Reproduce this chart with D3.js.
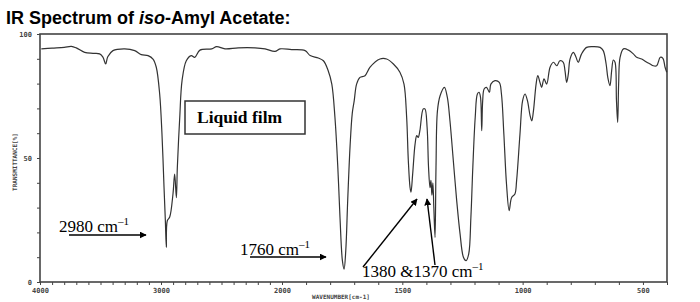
<!DOCTYPE html>
<html>
<head>
<meta charset="utf-8">
<script src="https://cdn.jsdelivr.net/npm/d3@7"></script>
<style>
  html, body { margin: 0; padding: 0; background: #fff; }
  svg { display: block; }
</style>
</head>
<body>
<svg id="chart" width="700" height="302"></svg>
<script>
// wavenumber (cm-1) and % transmittance
const wavenumbers = [
  3989, 3900, 3800, 3741, 3700, 3631, 3562, 3507, 3480, 3457, 3440, 3397, 3300, 3217,
  3163, 3107, 3066, 3039, 3011, 2992, 2975, 2964, 2956, 2948, 2928, 2901, 2887, 2873,
  2865, 2845, 2826, 2791, 2750, 2721, 2678, 2581, 2540, 2471, 2361, 2223, 2140, 2058,
  2017, 1960, 1904, 1883, 1849, 1828, 1808, 1793, 1780, 1768, 1759, 1749, 1742, 1735,
  1727, 1717, 1708, 1700, 1690, 1676, 1655, 1634, 1593, 1565, 1537, 1510, 1493, 1482,
  1475, 1468, 1464, 1457, 1447, 1440, 1434, 1427, 1413, 1406, 1397, 1391, 1385, 1381,
  1377, 1373, 1369, 1364, 1360, 1354, 1343, 1325, 1313, 1302, 1288, 1274, 1260, 1246,
  1235, 1224, 1215, 1207, 1197, 1188, 1181, 1175, 1170, 1166, 1160, 1150, 1138, 1132,
  1115, 1097, 1088, 1078, 1067, 1056, 1046, 1032, 1025, 1011, 1000, 990, 980, 969,
  962, 955, 944, 937, 928, 921, 911, 900, 886, 872, 858, 845, 831, 824,
  817, 810, 803, 789, 778, 769, 755, 734, 706, 678, 665, 653, 646, 637,
  630, 623, 616, 610, 605, 601, 595, 581, 560, 540, 526, 505, 484, 470,
  457, 443, 428, 417, 408, 401
];
const transmittance = [
  94, 94.3, 94.6, 95, 94.4, 92.6, 92.2, 92, 90.7, 87.9, 90.8, 93.3, 94, 93.3,
  91.7, 91.3, 89.9, 86.6, 75.8, 59.7, 38.2, 24.7, 14, 24.7, 26.2, 35.5, 43.5, 34,
  46.2, 66.4, 81.2, 89.2, 91.3, 90.6, 93.5, 94, 94.9, 94, 94.4, 94.4, 94, 93,
  94, 93.7, 93.3, 91.3, 90.3, 89.2, 85.2, 79.8, 66.4, 46.2, 26, 8.6, 5.2, 12.6,
  32.8, 55, 68, 73, 79.8, 82.5, 83.2, 86.6, 89.9, 89.9, 87.9, 84.6, 79.8, 66.4,
  48.9, 38.2, 36.2, 43.5, 55.6, 59, 58.3, 61, 69.8, 69.8, 62.4, 46.2, 38, 41,
  35, 40, 30, 18, 46.2, 69, 75.1, 78.5, 74.5, 65, 48.9, 32.8, 19.4, 10,
  8.6, 11.3, 26, 46.2, 66.4, 75.8, 76.5, 74.5, 61, 73.1, 77.8, 78.5, 76.5, 79.8,
  81.2, 80.5, 75.8, 59.7, 39.5, 28.8, 34, 35.5, 40.9, 59.7, 73.1, 75.8, 73.1, 67.1,
  65, 69, 79.8, 83.2, 80.5, 78.5, 81.9, 79.8, 86.6, 88.6, 87.2, 89.2, 88.6, 85.2,
  80.5, 83.9, 89.9, 92.6, 90.6, 88.6, 92, 94.6, 94.9, 94.6, 93.3, 87.9, 82.5, 79.2,
  85.2, 89.5, 88.6, 73.1, 64.4, 79.8, 90.6, 94, 93.5, 92, 90.6, 89.9, 88.6, 87.9,
  87.2, 87.2, 90.6, 90.2, 86.6, 84.6
];

const xTicks = d3.range(4000, 399, -100);
const xTickLabels = [4000, 3000, 2000, 1500, 1000, 500];
const yTicks = d3.range(0, 101, 10);
const yTickLabels = [0, 50, 100];

const annotations = [
  { text: '2980 cm', x: 59, y: 232 },
  { text: '1760 cm', x: 240, y: 255 },
  { text: '1380 &1370 cm', x: 362, y: 277 }
];
const arrows = [
  [69, 235, 146, 235],
  [250, 257, 326, 257],
  [363, 267, 417, 199],
  [435, 265, 427, 199]
];

const svg = d3.select('#chart');
const margin = { top: 34, right: 33, bottom: 20, left: 40 };
const W = 700, H = 302;

// IR chart: x scale compresses above 2000 cm-1
const x = d3.scaleLinear().domain([4000, 2000, 400]).range([margin.left, 282, W - margin.right]);
const y = d3.scaleLinear().domain([0, 100]).range([H - margin.bottom, margin.top]);

const defs = svg.append('defs');
defs.append('marker')
  .attr('id', 'arrowhead')
  .attr('viewBox', '0 0 10 10')
  .attr('refX', 9).attr('refY', 5)
  .attr('markerWidth', 7).attr('markerHeight', 7)
  .attr('markerUnits', 'userSpaceOnUse')
  .attr('orient', 'auto')
  .append('path')
  .attr('d', 'M0,0 L10,5 L0,10 Z')
  .attr('fill', '#000');

// title
const title = svg.append('text')
  .attr('x', 6).attr('y', 24)
  .attr('font-family', 'Liberation Sans, Arial, sans-serif')
  .attr('font-size', 18).attr('font-weight', 700)
  .attr('fill', '#000');
title.append('tspan').text('IR Spectrum of ');
title.append('tspan').attr('font-style', 'italic').text('iso');
title.append('tspan').text('-Amyl Acetate:');

const tickFont = (a) => a.selectAll('text')
  .attr('font-family', 'DejaVu Sans Mono, monospace')
  .attr('font-size', 7)
  .attr('font-weight', 700)
  .attr('fill', '#444');

svg.append('g')
  .attr('transform', `translate(0,${y(0)})`)
  .call(d3.axisBottom(x).tickValues(xTicks).tickSize(3).tickPadding(3)
    .tickFormat((d) => (xTickLabels.includes(d) ? d : '')))
  .call((a) => a.select('.domain').remove())
  .call((a) => a.selectAll('line').attr('stroke', '#444'))
  .call(tickFont);

svg.append('g')
  .attr('transform', `translate(${margin.left},0)`)
  .call(d3.axisLeft(y).tickValues(yTicks).tickSize(3).tickPadding(5)
    .tickFormat((d) => (yTickLabels.includes(d) ? d : '')))
  .call((a) => a.select('.domain').remove())
  .call((a) => a.selectAll('line').attr('stroke', '#444'))
  .call(tickFont);

// frame
svg.append('rect')
  .attr('x', x(4000)).attr('y', y(100))
  .attr('width', x(400) - x(4000)).attr('height', y(0) - y(100))
  .attr('fill', 'none').attr('stroke', '#444').attr('stroke-width', 1.6);

svg.append('text')
  .attr('transform', `translate(17,${(y(0) + y(100)) / 2 + 4}) rotate(-90)`)
  .attr('text-anchor', 'middle')
  .attr('font-family', 'DejaVu Sans Mono, monospace')
  .attr('font-size', 6).attr('font-weight', 700).attr('fill', '#444')
  .text('TRANSMITTANCE[%]');

svg.append('text')
  .attr('x', 341).attr('y', 299)
  .attr('text-anchor', 'middle')
  .attr('font-family', 'DejaVu Sans Mono, monospace')
  .attr('font-size', 6).attr('font-weight', 700).attr('fill', '#444')
  .text('WAVENUMBER[cm-1]');

// spectrum
const line = d3.line()
  .x((d, i) => x(wavenumbers[i]))
  .y((d) => y(d))
  .curve(d3.curveCatmullRom.alpha(0.5));

svg.append('path')
  .datum(transmittance)
  .attr('d', line)
  .attr('fill', 'none')
  .attr('stroke', '#333')
  .attr('stroke-width', 1.2);

// sample box
svg.append('rect')
  .attr('x', 185).attr('y', 101).attr('width', 120).attr('height', 33)
  .attr('fill', '#fff').attr('stroke', '#333').attr('stroke-width', 1.5);
svg.append('text')
  .attr('x', 197).attr('y', 123)
  .attr('font-family', 'Liberation Serif, Times New Roman, serif')
  .attr('font-size', 17.5).attr('font-weight', 700)
  .text('Liquid film');

// peak labels
annotations.forEach((a) => {
  const t = svg.append('text')
    .attr('x', a.x).attr('y', a.y)
    .attr('font-family', 'Liberation Serif, Times New Roman, serif')
    .attr('font-size', 17).attr('fill', '#000');
  t.append('tspan').text(a.text);
  t.append('tspan').attr('font-size', 11).attr('dy', -7).text('\u2013');
  t.append('tspan').attr('font-size', 11).text('1');
});

svg.selectAll('line.arrow')
  .data(arrows)
  .join('line')
  .attr('class', 'arrow')
  .attr('x1', (d) => d[0]).attr('y1', (d) => d[1])
  .attr('x2', (d) => d[2]).attr('y2', (d) => d[3])
  .attr('stroke', '#000').attr('stroke-width', 1.4)
  .attr('marker-end', 'url(#arrowhead)');
</script>
</body>
</html>
